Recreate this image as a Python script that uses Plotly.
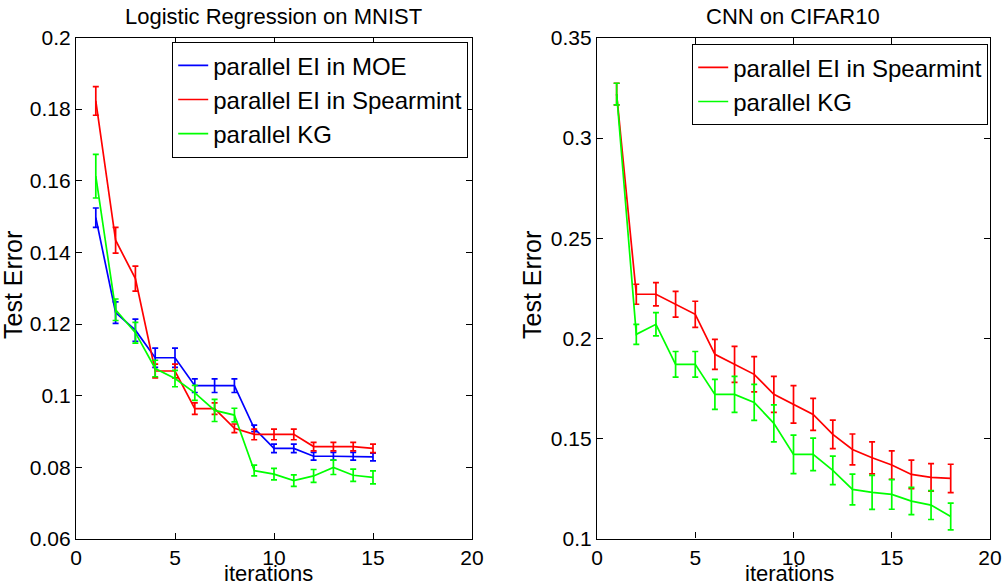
import plotly.graph_objects as go

# ---- Left panel: Logistic Regression on MNIST ----
iters_left = list(range(1, 16))
moe_ei = [0.1497, 0.1232, 0.1183, 0.1106, 0.1106, 0.1028, 0.1028, 0.1028,
          0.0909, 0.0853, 0.0853, 0.0831, 0.0831, 0.0831, 0.0829]
moe_ei_err = [0.0027, 0.0030, 0.0031, 0.0027, 0.0027, 0.0019, 0.0019, 0.0019,
              0.0009, 0.0012, 0.0012, 0.0011, 0.0011, 0.0011, 0.0011]
spear_left = [0.1823, 0.1434, 0.1327, 0.1069, 0.1069, 0.0964, 0.0964, 0.0909,
              0.0892, 0.0892, 0.0892, 0.0858, 0.0858, 0.0858, 0.0853]
spear_left_err = [0.0040, 0.0036, 0.0035, 0.0019, 0.0019, 0.0016, 0.0016, 0.0012,
                  0.0015, 0.0015, 0.0015, 0.0012, 0.0012, 0.0012, 0.0012]
kg_left = [0.1613, 0.1240, 0.1176, 0.1076, 0.1048, 0.1008, 0.0959, 0.0946,
           0.0791, 0.0781, 0.0763, 0.0776, 0.0800, 0.0778, 0.0772]
kg_left_err = [0.0061, 0.0030, 0.0029, 0.0023, 0.0023, 0.0021, 0.0031, 0.0019,
               0.0015, 0.0016, 0.0016, 0.0018, 0.0020, 0.0017, 0.0018]

# ---- Right panel: CNN on CIFAR10 ----
iters_right = list(range(1, 19))
spear_right = [0.322, 0.222, 0.222, 0.217, 0.212, 0.192, 0.187, 0.182, 0.172,
               0.167, 0.162, 0.152, 0.1445, 0.1403, 0.1367, 0.132, 0.1305, 0.130]
spear_right_err = [0.0054, 0.0050, 0.0058, 0.0064, 0.0065, 0.0075, 0.0090, 0.0088, 0.0090,
                   0.0094, 0.0080, 0.0071, 0.0077, 0.0080, 0.0071, 0.0071, 0.0069, 0.0071]
kg_right = [0.322, 0.202, 0.207, 0.187, 0.187, 0.172, 0.172, 0.168, 0.1575,
            0.142, 0.142, 0.134, 0.1245, 0.123, 0.122, 0.1187, 0.1167, 0.111]
kg_right_err = [0.0054, 0.0050, 0.0058, 0.0064, 0.0064, 0.0075, 0.0090, 0.0090, 0.0092,
                0.0096, 0.0081, 0.0071, 0.0077, 0.0085, 0.0074, 0.0068, 0.0072, 0.0067]

left_yticks = [0.06, 0.08, 0.1, 0.12, 0.14, 0.16, 0.18, 0.2]
left_yticktext = ["0.06", "0.08", "0.1", "0.12", "0.14", "0.16", "0.18", "0.2"]
right_yticks = [0.1, 0.15, 0.2, 0.25, 0.3, 0.35]
right_yticktext = ["0.1", "0.15", "0.2", "0.25", "0.3", "0.35"]
xticks = [0, 5, 10, 15, 20]

BLUE = "#0000ff"
RED = "#ff0000"
GREEN = "#00ff00"
FONT = "Liberation Sans"

fig = go.Figure()


def add(x, y, err, name, color, xa, ya, legend):
    fig.add_trace(go.Scatter(
        x=x, y=y, name=name, mode="lines",
        line=dict(color=color, width=1.7),
        error_y=dict(type="data", array=err, visible=True, color=color,
                     thickness=1.7, width=3),
        xaxis=xa, yaxis=ya, legend=legend,
    ))


add(iters_left, moe_ei, moe_ei_err, "parallel EI in MOE", BLUE, "x", "y", "legend")
add(iters_left, spear_left, spear_left_err, "parallel EI in Spearmint", RED, "x", "y", "legend")
add(iters_left, kg_left, kg_left_err, "parallel KG", GREEN, "x", "y", "legend")
add(iters_right, spear_right, spear_right_err, "parallel EI in Spearmint", RED, "x2", "y2", "legend2")
add(iters_right, kg_right, kg_right_err, "parallel KG", GREEN, "x2", "y2", "legend2")

W, H = 1008, 588


def ypx(top, bottom):
    return [1 - bottom / H, 1 - top / H]


axis_common = dict(
    showline=True, linecolor="black", linewidth=1.2, mirror="ticks",
    ticks="inside", ticklen=6, tickcolor="black", tickwidth=1,
    showgrid=False, zeroline=False, automargin=False,
    tickfont=dict(family=FONT, size=21, color="black"),
)

legend_common = dict(
    bgcolor="white", bordercolor="black", borderwidth=1.2,
    font=dict(family=FONT, size=24, color="black"),
    xanchor="right", yanchor="top", tracegroupgap=0,
    itemwidth=30,
)

title_font = dict(family=FONT, size=22, color="black")
label_font = dict(family=FONT, size=22, color="black")
ylabel_font = dict(family=FONT, size=25, color="black")

fig.update_layout(
    template="none",
    width=W, height=H,
    margin=dict(l=0, r=0, t=0, b=0, pad=0, autoexpand=False),
    paper_bgcolor="white", plot_bgcolor="white",
    xaxis=dict(domain=[76 / W, 472 / W], range=[0, 20], tickvals=xticks,
               anchor="y", **axis_common),
    yaxis=dict(domain=ypx(37.5, 539), range=[0.06, 0.2], tickvals=left_yticks,
               ticktext=left_yticktext, anchor="x", **axis_common),
    xaxis2=dict(domain=[597 / W, 990 / W], range=[0, 20], tickvals=xticks,
                anchor="y2", **axis_common),
    yaxis2=dict(domain=ypx(38, 538.5), range=[0.1, 0.35], tickvals=right_yticks,
                ticktext=right_yticktext, anchor="x2", **axis_common),
    legend=dict(x=468 / W, y=1 - 42 / H, xref="paper", yref="paper", **legend_common),
    legend2=dict(x=988 / W, y=1 - 44 / H, xref="paper", yref="paper", **legend_common),
    annotations=[
        dict(text="Logistic Regression on MNIST", x=273 / W, y=1 - 17 / H,
             xref="paper", yref="paper", showarrow=False,
             xanchor="center", yanchor="middle", font=title_font),
        dict(text="CNN on CIFAR10", x=793 / W, y=1 - 17 / H,
             xref="paper", yref="paper", showarrow=False,
             xanchor="center", yanchor="middle", font=title_font),
        dict(text="iterations", x=268 / W, y=0,
             xref="paper", yref="paper", showarrow=False,
             xanchor="center", yanchor="bottom", font=label_font),
        dict(text="iterations", x=789 / W, y=0,
             xref="paper", yref="paper", showarrow=False,
             xanchor="center", yanchor="bottom", font=label_font),
        dict(text="Test Error", x=13 / W, y=1 - 285 / H, textangle=-90,
             xref="paper", yref="paper", showarrow=False,
             xanchor="center", yanchor="middle", font=ylabel_font),
        dict(text="Test Error", x=532 / W, y=1 - 285 / H, textangle=-90,
             xref="paper", yref="paper", showarrow=False,
             xanchor="center", yanchor="middle", font=ylabel_font),
    ],
)

fig.write_html(
    "out.html",
    config={"displayModeBar": False},
    post_script="document.body.style.margin='0';document.body.style.overflow='hidden';",
)
